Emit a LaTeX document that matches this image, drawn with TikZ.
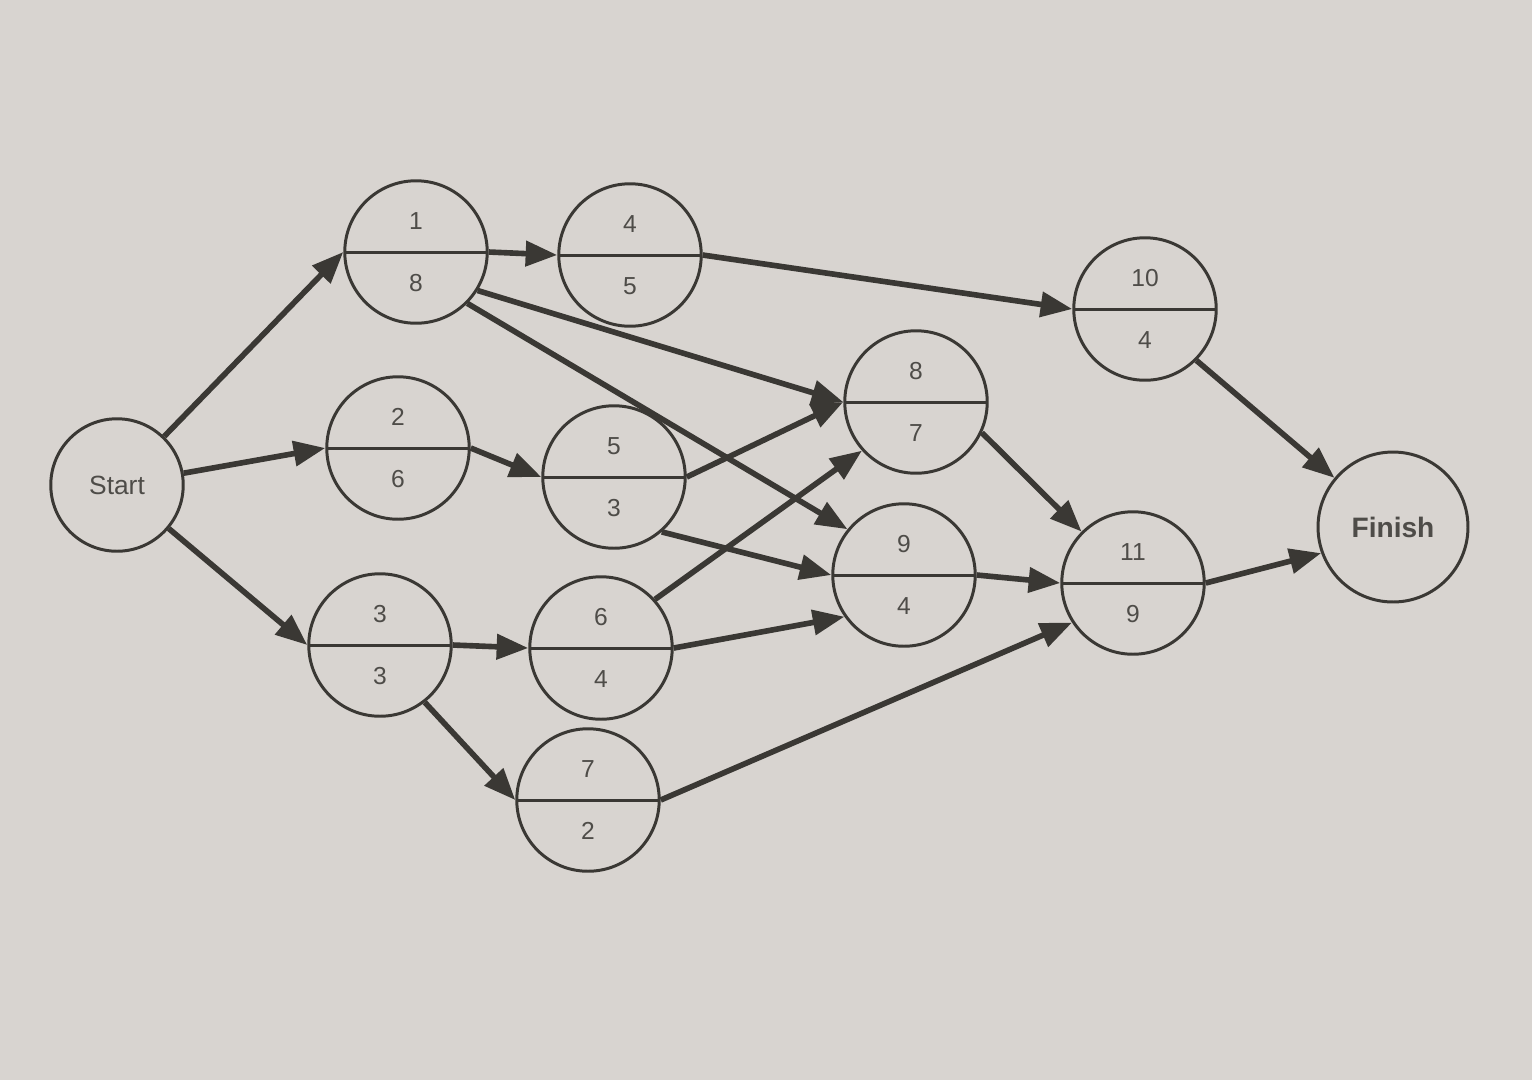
\documentclass[tikz,border=0pt]{standalone}
\usepackage{fontspec}
\setmainfont{Liberation Sans}
\usetikzlibrary{shapes.multipart,arrows.meta}
\definecolor{paper}{RGB}{216,212,208}
\definecolor{ink}{RGB}{58,56,52}
\definecolor{digit}{RGB}{78,76,72}
\begin{document}
\begin{tikzpicture}[x=0.02cm,y=-0.02cm,
  task/.style={circle split,draw=ink,line width=1.7pt,minimum size=2.85cm,
    inner ysep=12pt,text=digit,font=\fontsize{14}{16}\selectfont},
  endpt/.style={circle,draw=ink,line width=1.7pt,text=digit},
  link/.style={draw=ink,line width=3.2pt,-{Triangle[length=18pt,width=14pt]}}]
\fill[paper] (0,0) rectangle (1532,1080);
\node[endpt,minimum size=2.65cm,font=\fontsize{15}{18}\selectfont] (start) at (117,485) {Start};
\node[task] (n1) at (416,252) {1 \nodepart{lower} 8};
\node[task] (n4) at (630,255) {4 \nodepart{lower} 5};
\node[task] (n2) at (398,448) {2 \nodepart{lower} 6};
\node[task] (n5) at (614,477) {5 \nodepart{lower} 3};
\node[task] (n3) at (380,645) {3 \nodepart{lower} 3};
\node[task] (n6) at (601,648) {6 \nodepart{lower} 4};
\node[task] (n7) at (588,800) {7 \nodepart{lower} 2};
\node[task] (n8) at (916,402) {8 \nodepart{lower} 7};
\node[task] (n9) at (904,575) {9 \nodepart{lower} 4};
\node[task] (n10) at (1145,309) {10 \nodepart{lower} 4};
\node[task] (n11) at (1133,583) {11 \nodepart{lower} 9};
\node[endpt,minimum size=3cm,font=\bfseries\fontsize{16}{19}\selectfont] (finish) at (1393,527) {Finish};
\draw[link] (start) -- (n1.west);
\draw[link] (start) -- (n2.west);
\draw[link] (start) -- (n3.west);
\draw[link] (n1.east) -- (n4.west);
\draw[link] (n1.-32) -- (n8.west);
\draw[link] (n1.-45) -- (n9.141);
\draw[link] (n4.east) -- (n10.west);
\draw[link] (n2.east) -- (n5.west);
\draw[link] (n5.east) -- (n8.west);
\draw[link] (n5.-49) -- (n9.west);
\draw[link] (n3.east) -- (n6.west);
\draw[link] (n3.-52) -- (n7.west);
\draw[link] (n6.42) -- (n8.222);
\draw[link] (n6.east) -- (n9.215);
\draw[link] (n7.east) -- (n11.213);
\draw[link] (n8.-25) -- (n11.135);
\draw[link] (n9.east) -- (n11.west);
\draw[link] (n10.-45) -- (finish.140);
\draw[link] (n11.east) -- (finish.200);
\end{tikzpicture}
\end{document}
